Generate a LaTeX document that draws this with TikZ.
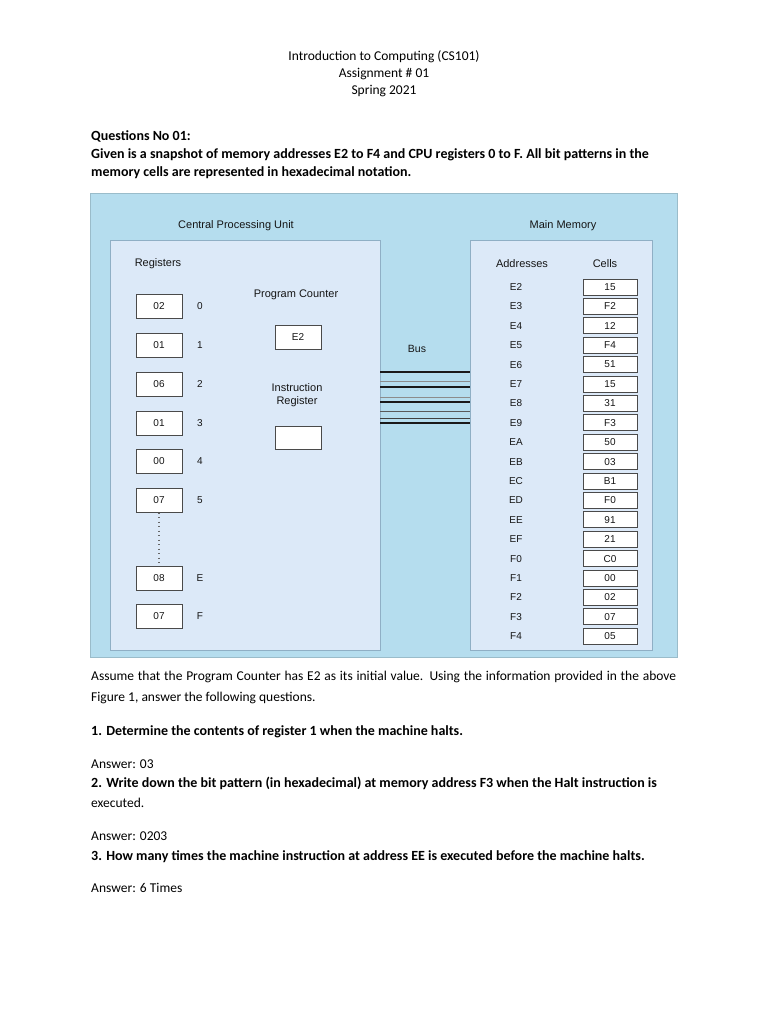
\documentclass[tikz,border=0pt]{standalone}
\usepackage{fontspec}
\setmainfont{Carlito}
\newfontfamily\arialf{Liberation Sans}
\usetikzlibrary{calc}
\definecolor{outerblue}{HTML}{B5DDEE}
\definecolor{innerblue}{HTML}{DCE9F8}
\definecolor{innerline}{HTML}{8FAFC5}
\definecolor{boxline}{HTML}{4A4A4A}
\definecolor{figtext}{HTML}{151515}
\begin{document}
\begin{tikzpicture}[x=1pt,y=-1pt,
  doc/.style={anchor=base west, inner sep=0, font=\fontsize{13.5}{16}\selectfont},
  docb/.style={anchor=base west, inner sep=0, font=\fontsize{14}{16}\selectfont\bfseries},
  ttl/.style={anchor=base, inner sep=0, font=\fontsize{13.5}{16}\selectfont},
  fighead/.style={inner sep=0, text=figtext, font=\arialf\fontsize{11}{13}\selectfont},
  figval/.style={inner sep=0, text=figtext, font=\arialf\fontsize{10}{12}\selectfont},
  regbox/.style={figval, draw=boxline, line width=1pt, fill=white, minimum width=46, minimum height=24},
  cellbox/.style={figval, draw=boxline, line width=0.8pt, fill=white, minimum width=54, minimum height=16},
  panel/.style={fill=innerblue, draw=innerline, line width=0.8pt, inner sep=0},
  busthick/.style={line width=2.2pt, draw=black!90},
  busthin/.style={line width=0.8pt, draw=black!45}
]
\useasboundingbox[fill=white] (0,0) rectangle (768,1024);

% Header
\node[ttl] (t1) at (384,61) {Introduction to Computing (CS101)};
\node[ttl] (t2) at (384,78) {Assignment \# 01};
\node[ttl] (t3) at (384,95) {Spring 2021};

\node[docb] (q1) at (91,141) {Questions No 01:};
\node[docb] (q2) at (91,159) {Given is a snapshot of memory addresses E2 to F4 and CPU registers 0 to F. All bit patterns in the};
\node[docb] (q3) at (91,177) {memory cells are represented in hexadecimal notation.};

% Figure panels
\node[fill=outerblue, draw=outerblue!85!black, line width=0.5pt, minimum width=587, minimum height=464, inner sep=0] (outer) at (383.5,425) {};
\node[panel, minimum width=270, minimum height=410] (cpu) at (245,445) {};
\node[panel, minimum width=182, minimum height=410] (mem) at (561,445) {};

\node[fighead] (cputitle) at (236,226) {Central Processing Unit};
\node[fighead] (memtitle) at (563,226) {Main Memory};
\node[fighead] (reghead) at (158,264) {Registers};
\node[fighead] (addrhead) at (522,264) {Addresses};
\node[fighead] (cellhead) at (605,264) {Cells};

% Registers
\foreach \n/\v/\y in {0/02/306, 1/01/345, 2/06/384, 3/01/423, 4/00/461, 5/07/500, E/08/578, F/07/616}{
  \node[regbox] (reg\n) at (159,\y) {\v};
  \node[figval] (lab\n) at (200,\y) {\n};
}
\draw[line width=1.3pt, draw=black!60, dash pattern=on 1.2pt off 3.3pt] (reg5.south) -- (regE.north);

% Program counter and instruction register
\node[fighead] (pchead) at (296,295) {Program Counter};
\node[regbox] (pc) at (298,337) {E2};
\node[fighead, align=center] (irhead) at (297,395.5) {Instruction\\Register};
\node[regbox, minimum height=23] (ir) at (298,438) {};

% Bus
\node[figval, font=\arialf\fontsize{10.5}{12}\selectfont] (bus) at (417,349) {Bus};
\draw[busthick] (cpu.east |- 0,372) -- (mem.west |- 0,372);
\draw[busthin]  (cpu.east |- 0,381) -- (mem.west |- 0,381);
\draw[busthick] (cpu.east |- 0,387) -- (mem.west |- 0,387);
\draw[busthin]  (cpu.east |- 0,397) -- (mem.west |- 0,397);
\draw[busthick] (cpu.east |- 0,402) -- (mem.west |- 0,402);
\draw[busthin, draw=black!65]  (cpu.east |- 0,411) -- (mem.west |- 0,411);
\draw[busthin, draw=black!75]  (cpu.east |- 0,418) -- (mem.west |- 0,418);
\draw[busthick, line width=1.6pt] (cpu.east |- 0,423) -- (mem.west |- 0,423);

% Memory
\foreach \a/\v [count=\i from 0] in {E2/15, E3/F2, E4/12, E5/F4, E6/51, E7/15, E8/31, E9/F3, EA/50, EB/03, EC/B1, ED/F0, EE/91, EF/21, F0/C0, F1/00, F2/02, F3/07, F4/05}{
  \node[figval] (addr\a) at (516,{287+\i*19.4}) {\a};
  \node[cellbox] (cell\a) at (610,{287+\i*19.4}) {\v};
}

% Questions
\node[doc] (p1) at (91,680) {\makebox[585pt][s]{Assume that the Program Counter has E2 as its initial value. Using the information provided in the above}};
\node[doc] (p2) at (91,701) {Figure 1, answer the following questions.};
\node[docb] (qa) at (91,735) {1. Determine the contents of register 1 when the machine halts.};
\node[doc] (aa) at (91,768) {Answer: 03};
\node[docb] (qb) at (91,787) {2. Write down the bit pattern (in hexadecimal) at memory address F3 when the Halt instruction is};
\node[doc] (qb2) at (91,807) {executed.};
\node[doc] (ab) at (91,840) {Answer: 0203};
\node[docb] (qc) at (91,860) {3. How many times the machine instruction at address EE is executed before the machine halts.};
\node[doc] (ac) at (91,892) {Answer: 6 Times};
\end{tikzpicture}
\end{document}
